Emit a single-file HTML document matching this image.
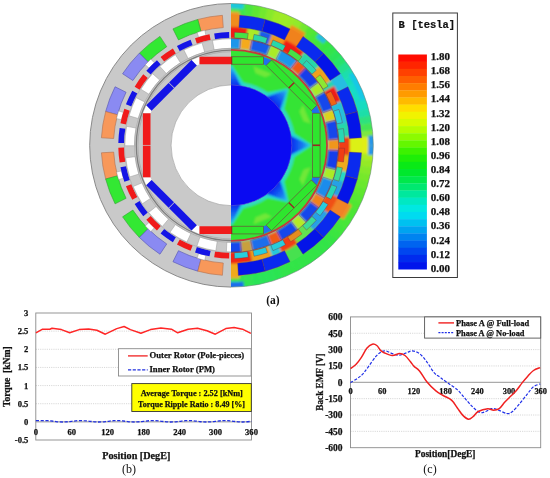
<!DOCTYPE html><html><head><meta charset="utf-8"><style>html,body{margin:0;padding:0;background:#fff;}body{width:550px;height:478px;overflow:hidden;}svg{display:block;}</style></head><body><svg width="550" height="478" viewBox="0 0 550 478">
<defs>
<clipPath id="cl"><rect x="0" y="0" width="231.0" height="300"/></clipPath>
<clipPath id="cr"><rect x="231.0" y="0" width="200" height="300"/></clipPath>
</defs>
<g clip-path="url(#cl)"><circle cx="231.5" cy="145.3" r="141.8" fill="#c9c9c9" stroke="#8a8a8a" stroke-width="1"/><path d="M197.78,19.44A130.3,130.3 0 0 1 222.41,15.32L223.27,27.59A118,118 0 0 0 200.96,31.32Z" fill="#f8985a" stroke="#b07050" stroke-width="0.6"/><path d="M172.95,28.89A130.3,130.3 0 0 1 197.78,19.44L200.96,31.32A118,118 0 0 0 178.48,39.88Z" fill="#33e833" stroke="#30a030" stroke-width="0.6"/><path d="M197.2,32.4A118,118 0 0 1 204.76,30.37L205.89,35.24A113,113 0 0 0 198.65,37.18Z" fill="#ffffff" stroke="#8a8a8a" stroke-width="0.4"/><path d="M139.36,53.16A130.3,130.3 0 0 1 159.96,36.39L166.72,46.67A118,118 0 0 0 148.06,61.86Z" fill="#33e833" stroke="#30a030" stroke-width="0.6"/><path d="M122.59,73.76A130.3,130.3 0 0 1 139.36,53.16L148.06,61.86A118,118 0 0 0 132.87,80.52Z" fill="#8a8af2" stroke="#5050b0" stroke-width="0.6"/><path d="M145.34,64.67A118,118 0 0 1 150.87,59.14L154.29,62.79A113,113 0 0 0 148.99,68.09Z" fill="#ffffff" stroke="#8a8a8a" stroke-width="0.4"/><path d="M105.64,111.58A130.3,130.3 0 0 1 115.09,86.75L126.08,92.28A118,118 0 0 0 117.52,114.76Z" fill="#8a8af2" stroke="#5050b0" stroke-width="0.6"/><path d="M101.42,137.8A130.3,130.3 0 0 1 105.64,111.58L117.52,114.76A118,118 0 0 0 113.7,138.51Z" fill="#f8985a" stroke="#b07050" stroke-width="0.6"/><path d="M116.57,118.56A118,118 0 0 1 118.6,111L123.38,112.45A113,113 0 0 0 121.44,119.69Z" fill="#ffffff" stroke="#8a8a8a" stroke-width="0.4"/><path d="M105.64,179.02A130.3,130.3 0 0 1 101.42,152.8L113.7,152.09A118,118 0 0 0 117.52,175.84Z" fill="#f8985a" stroke="#b07050" stroke-width="0.6"/><path d="M115.09,203.85A130.3,130.3 0 0 1 105.64,179.02L117.52,175.84A118,118 0 0 0 126.08,198.32Z" fill="#33e833" stroke="#30a030" stroke-width="0.6"/><path d="M118.6,179.6A118,118 0 0 1 116.57,172.04L121.44,170.91A113,113 0 0 0 123.38,178.15Z" fill="#ffffff" stroke="#8a8a8a" stroke-width="0.4"/><path d="M139.36,237.44A130.3,130.3 0 0 1 122.59,216.84L132.87,210.08A118,118 0 0 0 148.06,228.74Z" fill="#33e833" stroke="#30a030" stroke-width="0.6"/><path d="M159.96,254.21A130.3,130.3 0 0 1 139.36,237.44L148.06,228.74A118,118 0 0 0 166.72,243.93Z" fill="#8a8af2" stroke="#5050b0" stroke-width="0.6"/><path d="M150.87,231.46A118,118 0 0 1 145.34,225.93L148.99,222.51A113,113 0 0 0 154.29,227.81Z" fill="#ffffff" stroke="#8a8a8a" stroke-width="0.4"/><path d="M197.78,271.16A130.3,130.3 0 0 1 172.95,261.71L178.48,250.72A118,118 0 0 0 200.96,259.28Z" fill="#8a8af2" stroke="#5050b0" stroke-width="0.6"/><path d="M222.41,275.28A130.3,130.3 0 0 1 197.78,271.16L200.96,259.28A118,118 0 0 0 223.27,263.01Z" fill="#f8985a" stroke="#b07050" stroke-width="0.6"/><path d="M204.76,260.23A118,118 0 0 1 197.2,258.2L198.65,253.42A113,113 0 0 0 205.89,255.36Z" fill="#ffffff" stroke="#8a8a8a" stroke-width="0.4"/><path d="M214.18,33.43A113.2,113.2 0 0 1 229.13,32.12L229.25,37.92A107.4,107.4 0 0 0 215.07,39.16Z" fill="#1414e6"/><path d="M195.02,38.14A113.2,113.2 0 0 1 209.51,34.26L210.64,39.95A107.4,107.4 0 0 0 196.89,43.63Z" fill="#f01a1a"/><path d="M176.97,46.1A113.2,113.2 0 0 1 190.56,39.76L192.66,45.17A107.4,107.4 0 0 0 179.76,51.18Z" fill="#1414e6"/><path d="M160.57,57.08A113.2,113.2 0 0 1 172.86,48.47L175.86,53.43A107.4,107.4 0 0 0 164.2,61.6Z" fill="#f01a1a"/><path d="M146.33,70.74A113.2,113.2 0 0 1 156.94,60.13L160.76,64.49A107.4,107.4 0 0 0 150.69,74.56Z" fill="#1414e6"/><path d="M134.67,86.66A113.2,113.2 0 0 1 143.28,74.37L147.8,78A107.4,107.4 0 0 0 139.63,89.66Z" fill="#f01a1a"/><path d="M125.96,104.36A113.2,113.2 0 0 1 132.3,90.77L137.38,93.56A107.4,107.4 0 0 0 131.37,106.46Z" fill="#1414e6"/><path d="M120.46,123.31A113.2,113.2 0 0 1 124.34,108.82L129.83,110.69A107.4,107.4 0 0 0 126.15,124.44Z" fill="#f01a1a"/><path d="M118.32,142.93A113.2,113.2 0 0 1 119.63,127.98L125.36,128.87A107.4,107.4 0 0 0 124.12,143.05Z" fill="#1414e6"/><path d="M119.63,162.62A113.2,113.2 0 0 1 118.32,147.67L124.12,147.55A107.4,107.4 0 0 0 125.36,161.73Z" fill="#f01a1a"/><path d="M124.34,181.78A113.2,113.2 0 0 1 120.46,167.29L126.15,166.16A107.4,107.4 0 0 0 129.83,179.91Z" fill="#1414e6"/><path d="M132.3,199.83A113.2,113.2 0 0 1 125.96,186.24L131.37,184.14A107.4,107.4 0 0 0 137.38,197.04Z" fill="#f01a1a"/><path d="M143.28,216.23A113.2,113.2 0 0 1 134.67,203.94L139.63,200.94A107.4,107.4 0 0 0 147.8,212.6Z" fill="#1414e6"/><path d="M156.94,230.47A113.2,113.2 0 0 1 146.33,219.86L150.69,216.04A107.4,107.4 0 0 0 160.76,226.11Z" fill="#f01a1a"/><path d="M172.86,242.13A113.2,113.2 0 0 1 160.57,233.52L164.2,229A107.4,107.4 0 0 0 175.86,237.17Z" fill="#1414e6"/><path d="M190.56,250.84A113.2,113.2 0 0 1 176.97,244.5L179.76,239.42A107.4,107.4 0 0 0 192.66,245.43Z" fill="#f01a1a"/><path d="M209.51,256.34A113.2,113.2 0 0 1 195.02,252.46L196.89,246.97A107.4,107.4 0 0 0 210.64,250.65Z" fill="#1414e6"/><path d="M229.13,258.48A113.2,113.2 0 0 1 214.18,257.17L215.07,251.44A107.4,107.4 0 0 0 229.25,252.68Z" fill="#f01a1a"/><circle cx="231.5" cy="145.3" r="107.1" fill="none" stroke="#a8a8a8" stroke-width="0.6"/><path d="M212.44,40.42A106.6,106.6 0 0 1 233.36,38.72L233.19,48.31A97,97 0 0 0 214.16,49.86Z" fill="#ffffff" stroke="#9a9a9a" stroke-width="0.5"/><path d="M183.85,49.94A106.6,106.6 0 0 1 202.03,42.86L204.68,52.08A97,97 0 0 0 188.14,58.53Z" fill="#ffffff" stroke="#9a9a9a" stroke-width="0.5"/><path d="M159.83,66.39A106.6,106.6 0 0 1 175.41,54.65L180.46,62.82A97,97 0 0 0 166.28,73.5Z" fill="#ffffff" stroke="#9a9a9a" stroke-width="0.5"/><path d="M140.85,89.21A106.6,106.6 0 0 1 152.59,73.63L159.7,80.08A97,97 0 0 0 149.02,94.26Z" fill="#ffffff" stroke="#9a9a9a" stroke-width="0.5"/><path d="M129.06,115.83A106.6,106.6 0 0 1 136.14,97.65L144.73,101.94A97,97 0 0 0 138.28,118.48Z" fill="#ffffff" stroke="#9a9a9a" stroke-width="0.5"/><path d="M124.9,145.77A106.6,106.6 0 0 1 126.6,126.33L136.05,128.04A97,97 0 0 0 134.5,145.72Z" fill="#ffffff" stroke="#9a9a9a" stroke-width="0.5"/><path d="M129.69,176.91A106.6,106.6 0 0 1 125.64,157.83L135.17,156.7A97,97 0 0 0 138.86,174.06Z" fill="#ffffff" stroke="#9a9a9a" stroke-width="0.5"/><path d="M142.35,203.75A106.6,106.6 0 0 1 133.19,186.52L142.05,182.81A97,97 0 0 0 150.38,198.48Z" fill="#ffffff" stroke="#9a9a9a" stroke-width="0.5"/><path d="M162.34,226.42A106.6,106.6 0 0 1 148.71,212.46L156.17,206.41A97,97 0 0 0 168.57,219.11Z" fill="#ffffff" stroke="#9a9a9a" stroke-width="0.5"/><path d="M186.87,242.11A106.6,106.6 0 0 1 169.98,232.35L175.52,224.51A97,97 0 0 0 190.89,233.39Z" fill="#ffffff" stroke="#9a9a9a" stroke-width="0.5"/><path d="M215.84,250.74A106.6,106.6 0 0 1 196.88,246.12L200,237.04A97,97 0 0 0 217.25,241.25Z" fill="#ffffff" stroke="#9a9a9a" stroke-width="0.5"/><path d="M245.88,250.93A106.6,106.6 0 0 1 226.39,251.78L226.85,242.19A97,97 0 0 0 244.58,241.41Z" fill="#ffffff" stroke="#9a9a9a" stroke-width="0.5"/><circle cx="231.5" cy="145.3" r="97.0" fill="none" stroke="#a0a0a0" stroke-width="0.5"/><circle cx="231.5" cy="145.3" r="95.2" fill="#c9c9c9" stroke="#7e7e7e" stroke-width="1.3"/><circle cx="231.5" cy="145.3" r="93.60000000000001" fill="none" stroke="#a0a0a0" stroke-width="0.6"/><path d="M199.5,64.3L199.5,56.7L195.53,58.46L191.48,60.02L196.85,65.4Z" fill="#ffffff"/><path d="M151.6,110.65L146.22,105.28L144.66,109.33L142.9,113.3L150.5,113.3Z" fill="#ffffff"/><path d="M150.5,177.3L142.9,177.3L144.66,181.27L146.22,185.32L151.6,179.95Z" fill="#ffffff"/><path d="M196.85,225.2L191.48,230.58L195.53,232.14L199.5,233.9L199.5,226.3Z" fill="#ffffff"/><path d="M263.5,226.3L263.5,233.9L267.47,232.14L271.52,230.58L266.15,225.2Z" fill="#ffffff"/><path d="M311.4,179.95L316.78,185.32L318.34,181.27L320.1,177.3L312.5,177.3Z" fill="#ffffff"/><path d="M312.5,113.3L320.1,113.3L318.34,109.33L316.78,105.28L311.4,110.65Z" fill="#ffffff"/><path d="M266.15,65.4L271.52,60.02L267.47,58.46L263.5,56.7L263.5,64.3Z" fill="#ffffff"/><path d="M263.5,56.7L231.85,56.7L231.85,64.3L263.5,64.3Z" fill="#f01a1a"/><path d="M231.15,56.7L199.5,56.7L199.5,64.3L231.15,64.3Z" fill="#f01a1a"/><path d="M191.48,60.02L169.1,82.4L174.47,87.78L196.85,65.4Z" fill="#1414e6"/><path d="M168.6,82.9L146.22,105.28L151.6,110.65L173.98,88.27Z" fill="#1414e6"/><path d="M142.9,113.3L142.9,144.95L150.5,144.95L150.5,113.3Z" fill="#f01a1a"/><path d="M142.9,145.65L142.9,177.3L150.5,177.3L150.5,145.65Z" fill="#f01a1a"/><path d="M146.22,185.32L168.6,207.7L173.98,202.33L151.6,179.95Z" fill="#1414e6"/><path d="M169.1,208.2L191.48,230.58L196.85,225.2L174.47,202.82Z" fill="#1414e6"/><path d="M199.5,233.9L231.15,233.9L231.15,226.3L199.5,226.3Z" fill="#f01a1a"/><path d="M231.85,233.9L263.5,233.9L263.5,226.3L231.85,226.3Z" fill="#f01a1a"/><path d="M271.52,230.58L293.9,208.2L288.53,202.82L266.15,225.2Z" fill="#1414e6"/><path d="M294.4,207.7L316.78,185.32L311.4,179.95L289.02,202.33Z" fill="#1414e6"/><path d="M320.1,177.3L320.1,145.65L312.5,145.65L312.5,177.3Z" fill="#f01a1a"/><path d="M320.1,144.95L320.1,113.3L312.5,113.3L312.5,144.95Z" fill="#f01a1a"/><path d="M316.78,105.28L294.4,82.9L289.02,88.27L311.4,110.65Z" fill="#1414e6"/><path d="M293.9,82.4L271.52,60.02L266.15,65.4L288.53,87.78Z" fill="#1414e6"/><circle cx="231.5" cy="145.3" r="60.4" fill="#ffffff" stroke="#9a9a9a" stroke-width="0.6"/></g>
<g clip-path="url(#cr)"><defs><linearGradient id="vg180" gradientUnits="userSpaceOnUse" x1="231.5" y1="205.7" x2="231.5" y2="224.3"><stop offset="0" stop-color="#0830f0"/><stop offset="0.55" stop-color="#1878f0"/><stop offset="1" stop-color="#30c8e8"/></linearGradient><linearGradient id="vg135" gradientUnits="userSpaceOnUse" x1="274.21" y1="188.01" x2="287.36" y2="201.16"><stop offset="0" stop-color="#0830f0"/><stop offset="0.55" stop-color="#1878f0"/><stop offset="1" stop-color="#30c8e8"/></linearGradient><linearGradient id="vg90" gradientUnits="userSpaceOnUse" x1="291.9" y1="145.3" x2="310.5" y2="145.3"><stop offset="0" stop-color="#0830f0"/><stop offset="0.55" stop-color="#1878f0"/><stop offset="1" stop-color="#30c8e8"/></linearGradient><linearGradient id="vg45" gradientUnits="userSpaceOnUse" x1="274.21" y1="102.59" x2="287.36" y2="89.44"><stop offset="0" stop-color="#0830f0"/><stop offset="0.55" stop-color="#1878f0"/><stop offset="1" stop-color="#30c8e8"/></linearGradient><linearGradient id="vg0" gradientUnits="userSpaceOnUse" x1="231.5" y1="84.9" x2="231.5" y2="66.3"><stop offset="0" stop-color="#0830f0"/><stop offset="0.55" stop-color="#1878f0"/><stop offset="1" stop-color="#30c8e8"/></linearGradient><filter id="bl1" x="-10%" y="-10%" width="120%" height="120%"><feGaussianBlur stdDeviation="1.2"/></filter><filter id="bl2" x="-10%" y="-10%" width="120%" height="120%"><feGaussianBlur stdDeviation="1.2"/></filter><clipPath id="cyoke"><path d="M231.5,3.5A141.8,141.8 0 1 1 231.5,287.1A141.8,141.8 0 1 1 231.5,3.5ZM231.5,16A129.3,129.3 0 1 0 231.5,274.6A129.3,129.3 0 1 0 231.5,16Z" clip-rule="evenodd"/></clipPath><clipPath id="cstat"><path d="M231.5,14.5A130.8,130.8 0 1 1 231.5,276.1A130.8,130.8 0 1 1 231.5,14.5ZM231.5,38.7A106.6,106.6 0 1 0 231.5,251.9A106.6,106.6 0 1 0 231.5,38.7Z" clip-rule="evenodd"/></clipPath><clipPath id="cpp"><path d="M231.5,38.4A106.89999999999999,106.89999999999999 0 1 1 231.5,252.2A106.89999999999999,106.89999999999999 0 1 1 231.5,38.4ZM231.5,50.1A95.2,95.2 0 1 0 231.5,240.5A95.2,95.2 0 1 0 231.5,50.1Z" clip-rule="evenodd"/></clipPath><clipPath id="cin"><path d="M231.5,50.1A95.2,95.2 0 1 1 231.5,240.5A95.2,95.2 0 1 1 231.5,50.1ZM231.5,85.4A59.9,59.9 0 1 0 231.5,205.2A59.9,59.9 0 1 0 231.5,85.4Z" clip-rule="evenodd"/></clipPath></defs><g clip-path="url(#cyoke)"><g filter="url(#bl1)"><path d="M216.11,1.32A144.8,144.8 0 0 1 224.17,0.69L225.06,18.16A127.3,127.3 0 0 0 217.97,18.72Z" fill="#7fe833"/><path d="M223.67,0.71A144.8,144.8 0 0 1 231.75,0.5L231.72,18A127.3,127.3 0 0 0 224.62,18.19Z" fill="#6de739"/><path d="M231.25,0.5A144.8,144.8 0 0 1 239.33,0.71L238.38,18.19A127.3,127.3 0 0 0 231.28,18Z" fill="#58e542"/><path d="M238.83,0.69A144.8,144.8 0 0 1 246.89,1.32L245.03,18.72A127.3,127.3 0 0 0 237.94,18.16Z" fill="#40e44e"/><path d="M246.38,1.27A144.8,144.8 0 0 1 254.4,2.32L251.63,19.6A127.3,127.3 0 0 0 244.59,18.67Z" fill="#4be541"/><path d="M253.9,2.24A144.8,144.8 0 0 1 261.85,3.72L258.18,20.83A127.3,127.3 0 0 0 251.19,19.53Z" fill="#5ee632"/><path d="M261.36,3.61A144.8,144.8 0 0 1 269.22,5.5L264.66,22.4A127.3,127.3 0 0 0 257.75,20.74Z" fill="#72e82e"/><path d="M268.73,5.37A144.8,144.8 0 0 1 276.49,7.67L271.05,24.3A127.3,127.3 0 0 0 264.23,22.28Z" fill="#88e92c"/><path d="M276.01,7.51A144.8,144.8 0 0 1 283.63,10.21L277.33,26.54A127.3,127.3 0 0 0 270.63,24.16Z" fill="#9ceb28"/><path d="M283.16,10.03A144.8,144.8 0 0 1 290.63,13.12L283.48,29.1A127.3,127.3 0 0 0 276.91,26.38Z" fill="#9deb28"/><path d="M290.16,12.92A144.8,144.8 0 0 1 297.46,16.4L289.49,31.98A127.3,127.3 0 0 0 283.07,28.92Z" fill="#99ea28"/><path d="M297.01,16.17A144.8,144.8 0 0 1 304.12,20.03L295.34,35.17A127.3,127.3 0 0 0 289.09,31.77Z" fill="#91ea29"/><path d="M303.68,19.77A144.8,144.8 0 0 1 310.58,24L301.02,38.66A127.3,127.3 0 0 0 294.96,34.94Z" fill="#73e82d"/><path d="M310.15,23.72A144.8,144.8 0 0 1 316.82,28.3L306.5,42.44A127.3,127.3 0 0 0 300.65,38.42Z" fill="#55e631"/><path d="M316.41,28.01A144.8,144.8 0 0 1 322.82,32.93L311.79,46.51A127.3,127.3 0 0 0 306.15,42.18Z" fill="#48e637"/><path d="M322.43,32.61A144.8,144.8 0 0 1 328.58,37.86L316.85,50.85A127.3,127.3 0 0 0 311.44,46.23Z" fill="#40e53d"/><path d="M328.2,37.52A144.8,144.8 0 0 1 334.07,43.09L321.67,55.44A127.3,127.3 0 0 0 316.52,50.55Z" fill="#36e443"/><path d="M333.71,42.73A144.8,144.8 0 0 1 339.28,48.6L326.25,60.28A127.3,127.3 0 0 0 321.36,55.13Z" fill="#30e44c"/><path d="M338.94,48.22A144.8,144.8 0 0 1 344.19,54.37L330.57,65.36A127.3,127.3 0 0 0 325.95,59.95Z" fill="#2ce359"/><path d="M343.87,53.98A144.8,144.8 0 0 1 348.79,60.39L334.62,70.65A127.3,127.3 0 0 0 330.29,65.01Z" fill="#27e26a"/><path d="M348.5,59.98A144.8,144.8 0 0 1 353.08,66.65L338.38,76.15A127.3,127.3 0 0 0 334.36,70.3Z" fill="#22e08d"/><path d="M352.8,66.22A144.8,144.8 0 0 1 357.03,73.12L341.86,81.84A127.3,127.3 0 0 0 338.14,75.78Z" fill="#1ddeac"/><path d="M356.77,72.68A144.8,144.8 0 0 1 360.63,79.79L345.03,87.71A127.3,127.3 0 0 0 341.63,81.46Z" fill="#19ddb9"/><path d="M360.4,79.34A144.8,144.8 0 0 1 363.88,86.64L347.88,93.73A127.3,127.3 0 0 0 344.82,87.31Z" fill="#15dcc6"/><path d="M363.68,86.17A144.8,144.8 0 0 1 366.77,93.64L350.42,99.89A127.3,127.3 0 0 0 347.7,93.32Z" fill="#14dcc6"/><path d="M366.59,93.17A144.8,144.8 0 0 1 369.29,100.79L352.64,106.17A127.3,127.3 0 0 0 350.26,99.47Z" fill="#14dcc2"/><path d="M369.13,100.31A144.8,144.8 0 0 1 371.43,108.07L354.52,112.57A127.3,127.3 0 0 0 352.5,105.75Z" fill="#14dcc0"/><path d="M371.3,107.58A144.8,144.8 0 0 1 373.19,115.44L356.06,119.05A127.3,127.3 0 0 0 354.4,112.14Z" fill="#1ddea9"/><path d="M373.08,114.95A144.8,144.8 0 0 1 374.56,122.9L357.27,125.61A127.3,127.3 0 0 0 355.97,118.62Z" fill="#2ee17e"/><path d="M374.48,122.4A144.8,144.8 0 0 1 375.53,130.42L358.13,132.21A127.3,127.3 0 0 0 357.2,125.17Z" fill="#45e456"/><path d="M375.48,129.91A144.8,144.8 0 0 1 376.11,137.97L358.64,138.86A127.3,127.3 0 0 0 358.08,131.77Z" fill="#7ee840"/><path d="M376.09,137.47A144.8,144.8 0 0 1 376.3,145.55L358.8,145.52A127.3,127.3 0 0 0 358.61,138.42Z" fill="#b6ea29"/><path d="M376.3,145.05A144.8,144.8 0 0 1 376.09,153.13L358.61,152.18A127.3,127.3 0 0 0 358.8,145.08Z" fill="#c5ec20"/><path d="M376.11,152.63A144.8,144.8 0 0 1 375.48,160.69L358.08,158.83A127.3,127.3 0 0 0 358.64,151.74Z" fill="#abeb24"/><path d="M375.53,160.18A144.8,144.8 0 0 1 374.48,168.2L357.2,165.43A127.3,127.3 0 0 0 358.13,158.39Z" fill="#94ea28"/><path d="M374.56,167.7A144.8,144.8 0 0 1 373.08,175.65L355.97,171.98A127.3,127.3 0 0 0 357.27,164.99Z" fill="#84e92a"/><path d="M373.19,175.16A144.8,144.8 0 0 1 371.3,183.02L354.4,178.46A127.3,127.3 0 0 0 356.06,171.55Z" fill="#76e82c"/><path d="M371.43,182.53A144.8,144.8 0 0 1 369.13,190.29L352.5,184.85A127.3,127.3 0 0 0 354.52,178.03Z" fill="#6ae82e"/><path d="M369.29,189.81A144.8,144.8 0 0 1 366.59,197.43L350.26,191.13A127.3,127.3 0 0 0 352.64,184.43Z" fill="#60e72f"/><path d="M366.77,196.96A144.8,144.8 0 0 1 363.68,204.43L347.7,197.28A127.3,127.3 0 0 0 350.42,190.71Z" fill="#58e631"/><path d="M363.88,203.96A144.8,144.8 0 0 1 360.4,211.26L344.82,203.29A127.3,127.3 0 0 0 347.88,196.87Z" fill="#50e632"/><path d="M360.63,210.81A144.8,144.8 0 0 1 356.77,217.92L341.63,209.14A127.3,127.3 0 0 0 345.03,202.89Z" fill="#4ce634"/><path d="M357.03,217.48A144.8,144.8 0 0 1 352.8,224.38L338.14,214.82A127.3,127.3 0 0 0 341.86,208.76Z" fill="#4ae635"/><path d="M353.08,223.95A144.8,144.8 0 0 1 348.5,230.62L334.36,220.3A127.3,127.3 0 0 0 338.38,214.45Z" fill="#46e637"/><path d="M348.79,230.21A144.8,144.8 0 0 1 343.87,236.62L330.29,225.59A127.3,127.3 0 0 0 334.62,219.95Z" fill="#41e63b"/><path d="M344.19,236.23A144.8,144.8 0 0 1 338.94,242.38L325.95,230.65A127.3,127.3 0 0 0 330.57,225.24Z" fill="#3be53f"/><path d="M339.28,242A144.8,144.8 0 0 1 333.71,247.87L321.36,235.47A127.3,127.3 0 0 0 326.25,230.32Z" fill="#35e444"/><path d="M334.07,247.51A144.8,144.8 0 0 1 328.2,253.08L316.52,240.05A127.3,127.3 0 0 0 321.67,235.16Z" fill="#32e446"/><path d="M328.58,252.74A144.8,144.8 0 0 1 322.43,257.99L311.44,244.37A127.3,127.3 0 0 0 316.85,239.75Z" fill="#32e446"/><path d="M322.82,257.67A144.8,144.8 0 0 1 316.41,262.59L306.15,248.42A127.3,127.3 0 0 0 311.79,244.09Z" fill="#32e446"/><path d="M316.82,262.3A144.8,144.8 0 0 1 310.15,266.88L300.65,252.18A127.3,127.3 0 0 0 306.5,248.16Z" fill="#32e446"/><path d="M310.58,266.6A144.8,144.8 0 0 1 303.68,270.83L294.96,255.66A127.3,127.3 0 0 0 301.02,251.94Z" fill="#32e446"/><path d="M304.12,270.57A144.8,144.8 0 0 1 297.01,274.43L289.09,258.83A127.3,127.3 0 0 0 295.34,255.43Z" fill="#32e446"/><path d="M297.46,274.2A144.8,144.8 0 0 1 290.16,277.68L283.07,261.68A127.3,127.3 0 0 0 289.49,258.62Z" fill="#32e446"/><path d="M290.63,277.48A144.8,144.8 0 0 1 283.16,280.57L276.91,264.22A127.3,127.3 0 0 0 283.48,261.5Z" fill="#30e44b"/><path d="M283.63,280.39A144.8,144.8 0 0 1 276.01,283.09L270.63,266.44A127.3,127.3 0 0 0 277.33,264.06Z" fill="#2ce451"/><path d="M276.49,282.93A144.8,144.8 0 0 1 268.73,285.23L264.23,268.32A127.3,127.3 0 0 0 271.05,266.3Z" fill="#2ae457"/><path d="M269.22,285.1A144.8,144.8 0 0 1 261.36,286.99L257.75,269.86A127.3,127.3 0 0 0 264.66,268.2Z" fill="#2ae458"/><path d="M261.85,286.88A144.8,144.8 0 0 1 253.9,288.36L251.19,271.07A127.3,127.3 0 0 0 258.18,269.77Z" fill="#2ce456"/><path d="M254.4,288.28A144.8,144.8 0 0 1 246.38,289.33L244.59,271.93A127.3,127.3 0 0 0 251.63,271Z" fill="#30e452"/><path d="M246.89,289.28A144.8,144.8 0 0 1 238.83,289.91L237.94,272.44A127.3,127.3 0 0 0 245.03,271.88Z" fill="#32e450"/><path d="M239.33,289.89A144.8,144.8 0 0 1 231.25,290.1L231.28,272.6A127.3,127.3 0 0 0 238.38,272.41Z" fill="#36e44c"/><path d="M231.75,290.1A144.8,144.8 0 0 1 223.67,289.89L224.62,272.41A127.3,127.3 0 0 0 231.72,272.6Z" fill="#38e44a"/><path d="M224.17,289.91A144.8,144.8 0 0 1 216.11,289.28L217.97,271.88A127.3,127.3 0 0 0 225.06,272.44Z" fill="#3ce446"/><path d="M223.36,12.25A133.3,133.3 0 0 1 239.64,12.25L239.27,18.24A127.3,127.3 0 0 0 223.73,18.24Z" fill="#f09628"/><path d="M291.42,25.11A134.3,134.3 0 0 1 305.63,33.31L301.76,39.15A127.3,127.3 0 0 0 288.3,31.37Z" fill="#f08c1e"/><path d="M375.03,136.52A143.8,143.8 0 0 1 375.03,154.08L358.56,153.07A127.3,127.3 0 0 0 358.56,137.53Z" fill="#e1ee19"/><path d="M351.69,205.22A134.3,134.3 0 0 1 343.49,219.43L337.65,215.56A127.3,127.3 0 0 0 345.43,202.1Z" fill="#f08c28"/><path d="M239.64,278.35A133.3,133.3 0 0 1 223.36,278.35L223.73,272.36A127.3,127.3 0 0 0 239.27,272.36Z" fill="#f0aa28"/><path d="M228.97,0.52A144.8,144.8 0 0 1 244.12,1.05L243.42,9.02A136.8,136.8 0 0 0 229.11,8.52Z" fill="#1ec8dc"/><path d="M320.65,31.2A144.8,144.8 0 0 1 328.39,37.69L323.04,43.64A136.8,136.8 0 0 0 315.72,37.5Z" fill="#28bedc"/><path d="M375.95,135.2A144.8,144.8 0 0 1 376.3,145.3L368.3,145.3A136.8,136.8 0 0 0 367.97,135.76Z" fill="#2896eb"/><path d="M376.3,145.3A144.8,144.8 0 0 1 375.95,155.4L367.97,154.84A136.8,136.8 0 0 0 368.3,145.3Z" fill="#2896eb"/><path d="M355.62,70.72A144.8,144.8 0 0 1 368.41,98.16L360.85,100.76A136.8,136.8 0 0 0 348.76,74.84Z" fill="#14c8e6"/><path d="M244.12,289.55A144.8,144.8 0 0 1 228.97,290.08L229.11,282.08A136.8,136.8 0 0 0 243.42,281.58Z" fill="#1e6eeb"/></g></g><g clip-path="url(#cstat)"><g filter="url(#bl1)"><path d="M212.95,13.3A133.3,133.3 0 1 1 212.95,277.3L217.08,247.89A103.6,103.6 0 1 0 217.08,42.71Z" fill="#60dc60"/><path d="M219.88,12.51A133.3,133.3 0 0 1 243.12,12.51L241.44,31.73A114,114 0 0 0 221.56,31.73Z" fill="#f08c1e"/><path d="M289.31,25.19A133.3,133.3 0 0 1 306.62,35.18L295.74,51.12A114,114 0 0 0 280.94,42.58Z" fill="#f0821e"/><path d="M341.62,70.18A133.3,133.3 0 0 1 351.61,87.49L334.22,95.86A114,114 0 0 0 325.68,81.06Z" fill="#28bee1"/><path d="M364.42,135.31A133.3,133.3 0 0 1 364.42,155.29L345.18,153.85A114,114 0 0 0 345.18,136.75Z" fill="#dcf014"/><path d="M351.61,203.11A133.3,133.3 0 0 1 341.62,220.42L325.68,209.54A114,114 0 0 0 334.22,194.74Z" fill="#f08228"/><path d="M306.62,255.42A133.3,133.3 0 0 1 289.31,265.41L280.94,248.02A114,114 0 0 0 295.74,239.48Z" fill="#46e150"/><path d="M243.12,278.09A133.3,133.3 0 0 1 219.88,278.09L221.56,258.87A114,114 0 0 0 241.44,258.87Z" fill="#f0aa1e"/><path d="M221.17,27.25A118.5,118.5 0 0 1 247.99,27.95L246.31,39.94A106.4,106.4 0 0 0 222.23,39.3Z" fill="#f01e14"/><path d="M247.99,27.95A118.5,118.5 0 0 1 260.17,30.32L257.24,42.06A106.4,106.4 0 0 0 246.31,39.94Z" fill="#aaeb28"/><path d="M260.17,30.32A118.5,118.5 0 0 1 272.03,33.95L267.89,45.32A106.4,106.4 0 0 0 257.24,42.06Z" fill="#1e5aeb"/><path d="M272.03,33.95A118.5,118.5 0 0 1 285.3,39.72L279.8,50.5A106.4,106.4 0 0 0 267.89,45.32Z" fill="#f0961e"/><path d="M285.3,39.72A118.5,118.5 0 0 1 304.46,51.92L297.01,61.46A106.4,106.4 0 0 0 279.8,50.5Z" fill="#f01e14"/><path d="M304.46,51.92A118.5,118.5 0 0 1 319.56,66.01L310.57,74.1A106.4,106.4 0 0 0 297.01,61.46Z" fill="#28d7aa"/><path d="M319.56,66.01A118.5,118.5 0 0 1 330.88,80.76L320.73,87.35A106.4,106.4 0 0 0 310.57,74.1Z" fill="#f0a01e"/><path d="M330.88,80.76A118.5,118.5 0 0 1 334.12,86.05L323.65,92.1A106.4,106.4 0 0 0 320.73,87.35Z" fill="#28d7aa"/><path d="M334.12,86.05A118.5,118.5 0 0 1 341.37,100.91L330.15,105.44A106.4,106.4 0 0 0 323.65,92.1Z" fill="#f01e14"/><path d="M341.37,100.91A118.5,118.5 0 0 1 347.82,122.69L335.95,125A106.4,106.4 0 0 0 330.15,105.44Z" fill="#28bedc"/><path d="M347.82,122.69A118.5,118.5 0 0 1 349.71,137.03L337.64,137.88A106.4,106.4 0 0 0 335.95,125Z" fill="#28d7aa"/><path d="M349.71,137.03A118.5,118.5 0 0 1 349.55,155.63L337.5,154.57A106.4,106.4 0 0 0 337.64,137.88Z" fill="#f03c14"/><path d="M349.55,155.63A118.5,118.5 0 0 1 346.96,171.96L335.17,169.23A106.4,106.4 0 0 0 337.5,154.57Z" fill="#f0aa1e"/><path d="M346.96,171.96A118.5,118.5 0 0 1 344.2,181.92L332.69,178.18A106.4,106.4 0 0 0 335.17,169.23Z" fill="#28d7c8"/><path d="M344.2,181.92A118.5,118.5 0 0 1 338.01,197.25L327.13,191.94A106.4,106.4 0 0 0 332.69,178.18Z" fill="#28a0e6"/><path d="M338.01,197.25A118.5,118.5 0 0 1 328.57,213.27L318.66,206.33A106.4,106.4 0 0 0 327.13,191.94Z" fill="#f05014"/><path d="M328.57,213.27A118.5,118.5 0 0 1 313.82,230.54L305.41,221.84A106.4,106.4 0 0 0 318.66,206.33Z" fill="#28a0e6"/><path d="M313.82,230.54A118.5,118.5 0 0 1 297.76,243.54L291,233.51A106.4,106.4 0 0 0 305.41,221.84Z" fill="#64e150"/><path d="M297.76,243.54A118.5,118.5 0 0 1 281.58,252.7L276.47,241.73A106.4,106.4 0 0 0 291,233.51Z" fill="#f03c14"/><path d="M281.58,252.7A118.5,118.5 0 0 1 272.03,256.65L267.89,245.28A106.4,106.4 0 0 0 276.47,241.73Z" fill="#28c8dc"/><path d="M272.03,256.65A118.5,118.5 0 0 1 252.08,262L249.98,250.08A106.4,106.4 0 0 0 267.89,245.28Z" fill="#f0a01e"/><path d="M252.08,262A118.5,118.5 0 0 1 221.17,263.35L222.23,251.3A106.4,106.4 0 0 0 249.98,250.08Z" fill="#f02814"/></g></g><path d="M239.68,15.26A130.3,130.3 0 0 1 265.22,19.44L262.04,31.32A118,118 0 0 0 238.91,27.53Z" fill="#0a2aee"/><path d="M265.22,19.44A130.3,130.3 0 0 1 290.05,28.89L284.52,39.88A118,118 0 0 0 262.04,31.32Z" fill="#0414e8"/><path d="M239.68,15.26A130.3,130.3 0 0 1 290.05,28.89L284.52,39.88A118,118 0 0 0 238.91,27.53Z" fill="none" stroke="#6a3a5a" stroke-width="0.4"/><path d="M262.04,31.32L265.22,19.44" stroke="#7a3040" stroke-width="0.5"/><path d="M303.04,36.39A130.3,130.3 0 0 1 323.64,53.16L314.94,61.86A118,118 0 0 0 296.28,46.67Z" fill="#0a2aee"/><path d="M323.64,53.16A130.3,130.3 0 0 1 340.41,73.76L330.13,80.52A118,118 0 0 0 314.94,61.86Z" fill="#0414e8"/><path d="M303.04,36.39A130.3,130.3 0 0 1 340.41,73.76L330.13,80.52A118,118 0 0 0 296.28,46.67Z" fill="none" stroke="#6a3a5a" stroke-width="0.4"/><path d="M314.94,61.86L323.64,53.16" stroke="#7a3040" stroke-width="0.5"/><path d="M347.91,86.75A130.3,130.3 0 0 1 357.36,111.58L345.48,114.76A118,118 0 0 0 336.92,92.28Z" fill="#0a2aee"/><path d="M357.36,111.58A130.3,130.3 0 0 1 361.58,137.8L349.3,138.51A118,118 0 0 0 345.48,114.76Z" fill="#0414e8"/><path d="M347.91,86.75A130.3,130.3 0 0 1 361.58,137.8L349.3,138.51A118,118 0 0 0 336.92,92.28Z" fill="none" stroke="#6a3a5a" stroke-width="0.4"/><path d="M345.48,114.76L357.36,111.58" stroke="#7a3040" stroke-width="0.5"/><path d="M361.58,152.8A130.3,130.3 0 0 1 357.36,179.02L345.48,175.84A118,118 0 0 0 349.3,152.09Z" fill="#0a2aee"/><path d="M357.36,179.02A130.3,130.3 0 0 1 347.91,203.85L336.92,198.32A118,118 0 0 0 345.48,175.84Z" fill="#0414e8"/><path d="M361.58,152.8A130.3,130.3 0 0 1 347.91,203.85L336.92,198.32A118,118 0 0 0 349.3,152.09Z" fill="none" stroke="#6a3a5a" stroke-width="0.4"/><path d="M345.48,175.84L357.36,179.02" stroke="#7a3040" stroke-width="0.5"/><path d="M340.41,216.84A130.3,130.3 0 0 1 323.64,237.44L314.94,228.74A118,118 0 0 0 330.13,210.08Z" fill="#0a2aee"/><path d="M323.64,237.44A130.3,130.3 0 0 1 303.04,254.21L296.28,243.93A118,118 0 0 0 314.94,228.74Z" fill="#0414e8"/><path d="M340.41,216.84A130.3,130.3 0 0 1 303.04,254.21L296.28,243.93A118,118 0 0 0 330.13,210.08Z" fill="none" stroke="#6a3a5a" stroke-width="0.4"/><path d="M314.94,228.74L323.64,237.44" stroke="#7a3040" stroke-width="0.5"/><path d="M290.05,261.71A130.3,130.3 0 0 1 265.22,271.16L262.04,259.28A118,118 0 0 0 284.52,250.72Z" fill="#0a2aee"/><path d="M265.22,271.16A130.3,130.3 0 0 1 238.32,275.42L237.68,263.14A118,118 0 0 0 262.04,259.28Z" fill="#0414e8"/><path d="M290.05,261.71A130.3,130.3 0 0 1 238.32,275.42L237.68,263.14A118,118 0 0 0 284.52,250.72Z" fill="none" stroke="#6a3a5a" stroke-width="0.4"/><path d="M262.04,259.28L265.22,271.16" stroke="#7a3040" stroke-width="0.5"/><path d="M234.46,32.14A113.2,113.2 0 0 1 248.23,33.34L247.37,39.08A107.4,107.4 0 0 0 234.31,37.94Z" fill="#46e146" stroke="#7a3040" stroke-width="0.4"/><path d="M254.07,34.37A113.2,113.2 0 0 1 267.42,37.95L265.58,43.45A107.4,107.4 0 0 0 252.91,40.06Z" fill="#28d7aa" stroke="#7a3040" stroke-width="0.4"/><path d="M272.99,39.98A113.2,113.2 0 0 1 285.51,45.82L282.75,50.92A107.4,107.4 0 0 0 270.86,45.37Z" fill="#28d7aa" stroke="#7a3040" stroke-width="0.4"/><path d="M290.65,48.78A113.2,113.2 0 0 1 301.97,56.71L298.36,61.25A107.4,107.4 0 0 0 287.62,53.73Z" fill="#46e146" stroke="#7a3040" stroke-width="0.4"/><path d="M306.51,60.52A113.2,113.2 0 0 1 316.28,70.29L311.94,74.13A107.4,107.4 0 0 0 302.67,64.86Z" fill="#28d7b4" stroke="#7a3040" stroke-width="0.4"/><path d="M320.09,74.83A113.2,113.2 0 0 1 328.02,86.15L323.07,89.18A107.4,107.4 0 0 0 315.55,78.44Z" fill="#8ce832" stroke="#7a3040" stroke-width="0.4"/><path d="M330.98,91.29A113.2,113.2 0 0 1 336.82,103.81L331.43,105.94A107.4,107.4 0 0 0 325.88,94.05Z" fill="#f06414" stroke="#7a3040" stroke-width="0.4"/><path d="M338.85,109.38A113.2,113.2 0 0 1 342.43,122.73L336.74,123.89A107.4,107.4 0 0 0 333.35,111.22Z" fill="#28cddc" stroke="#7a3040" stroke-width="0.4"/><path d="M343.46,128.57A113.2,113.2 0 0 1 344.66,142.34L338.86,142.49A107.4,107.4 0 0 0 337.72,129.43Z" fill="#28d7b4" stroke="#7a3040" stroke-width="0.4"/><path d="M344.66,148.26A113.2,113.2 0 0 1 343.46,162.03L337.72,161.17A107.4,107.4 0 0 0 338.86,148.11Z" fill="#f03c14" stroke="#7a3040" stroke-width="0.4"/><path d="M342.43,167.87A113.2,113.2 0 0 1 338.85,181.22L333.35,179.38A107.4,107.4 0 0 0 336.74,166.71Z" fill="#3cdc96" stroke="#7a3040" stroke-width="0.4"/><path d="M336.82,186.79A113.2,113.2 0 0 1 330.98,199.31L325.88,196.55A107.4,107.4 0 0 0 331.43,184.66Z" fill="#28d7b4" stroke="#7a3040" stroke-width="0.4"/><path d="M328.02,204.45A113.2,113.2 0 0 1 320.09,215.77L315.55,212.16A107.4,107.4 0 0 0 323.07,201.42Z" fill="#28cddc" stroke="#7a3040" stroke-width="0.4"/><path d="M316.28,220.31A113.2,113.2 0 0 1 306.51,230.08L302.67,225.74A107.4,107.4 0 0 0 311.94,216.47Z" fill="#3cdc96" stroke="#7a3040" stroke-width="0.4"/><path d="M301.97,233.89A113.2,113.2 0 0 1 290.65,241.82L287.62,236.87A107.4,107.4 0 0 0 298.36,229.35Z" fill="#e68c1e" stroke="#7a3040" stroke-width="0.4"/><path d="M285.51,244.78A113.2,113.2 0 0 1 272.99,250.62L270.86,245.23A107.4,107.4 0 0 0 282.75,239.68Z" fill="#28cddc" stroke="#7a3040" stroke-width="0.4"/><path d="M267.42,252.65A113.2,113.2 0 0 1 254.07,256.23L252.91,250.54A107.4,107.4 0 0 0 265.58,247.15Z" fill="#28cddc" stroke="#7a3040" stroke-width="0.4"/><path d="M248.23,257.26A113.2,113.2 0 0 1 234.46,258.46L234.31,252.66A107.4,107.4 0 0 0 247.37,251.52Z" fill="#28cddc" stroke="#7a3040" stroke-width="0.4"/><g clip-path="url(#cpp)"><g filter="url(#bl1)"><path d="M216.39,37.76A108.6,108.6 0 1 1 216.39,252.84L218.39,238.58A94.2,94.2 0 1 0 218.39,52.02Z" fill="#70d8a0"/><path d="M221.28,37.18A108.6,108.6 0 0 1 240.97,37.11L239.93,48.97A96.7,96.7 0 0 0 222.4,49.03Z" fill="#1e96eb"/><path d="M240.97,37.11A108.6,108.6 0 0 1 252.15,38.68L249.89,50.36A96.7,96.7 0 0 0 239.93,48.97Z" fill="#f5aa1e"/><path d="M252.15,38.68A108.6,108.6 0 0 1 271.06,44.16L266.73,55.24A96.7,96.7 0 0 0 249.89,50.36Z" fill="#145aeb"/><path d="M271.06,44.16A108.6,108.6 0 0 1 281.36,48.82L275.89,59.39A96.7,96.7 0 0 0 266.73,55.24Z" fill="#aaeb28"/><path d="M281.36,48.82A108.6,108.6 0 0 1 297.95,59.4L290.67,68.82A96.7,96.7 0 0 0 275.89,59.39Z" fill="#1e96eb"/><path d="M297.95,59.4A108.6,108.6 0 0 1 306.52,66.77L298.3,75.38A96.7,96.7 0 0 0 290.67,68.82Z" fill="#f05a14"/><path d="M306.52,66.77A108.6,108.6 0 0 1 319.46,81.61L309.82,88.59A96.7,96.7 0 0 0 298.3,75.38Z" fill="#143ceb"/><path d="M319.46,81.61A108.6,108.6 0 0 1 325.6,91.09L315.29,97.03A96.7,96.7 0 0 0 309.82,88.59Z" fill="#aaeb28"/><path d="M325.6,91.09A108.6,108.6 0 0 1 333.84,108.97L322.63,112.95A96.7,96.7 0 0 0 315.29,97.03Z" fill="#1446eb"/><path d="M333.84,108.97A108.6,108.6 0 0 1 337.06,119.8L325.5,122.59A96.7,96.7 0 0 0 322.63,112.95Z" fill="#dcd21e"/><path d="M337.06,119.8A108.6,108.6 0 0 1 339.93,139.27L328.05,139.93A96.7,96.7 0 0 0 325.5,122.59Z" fill="#1446eb"/><path d="M339.93,139.27A108.6,108.6 0 0 1 339.97,150.57L328.09,149.99A96.7,96.7 0 0 0 328.05,139.93Z" fill="#f0961e"/><path d="M339.97,150.57A108.6,108.6 0 0 1 337.24,170.06L325.65,167.35A96.7,96.7 0 0 0 328.09,149.99Z" fill="#143ceb"/><path d="M337.24,170.06A108.6,108.6 0 0 1 334.09,180.92L322.85,177.01A96.7,96.7 0 0 0 325.65,167.35Z" fill="#aaeb28"/><path d="M334.09,180.92A108.6,108.6 0 0 1 325.98,198.85L315.63,192.98A96.7,96.7 0 0 0 322.85,177.01Z" fill="#1e8ceb"/><path d="M325.98,198.85A108.6,108.6 0 0 1 319.9,208.38L310.22,201.47A96.7,96.7 0 0 0 315.63,192.98Z" fill="#f0821e"/><path d="M319.9,208.38A108.6,108.6 0 0 1 307.06,223.3L298.78,214.75A96.7,96.7 0 0 0 310.22,201.47Z" fill="#1446eb"/><path d="M307.06,223.3A108.6,108.6 0 0 1 298.55,230.73L291.2,221.37A96.7,96.7 0 0 0 298.78,214.75Z" fill="#b4eb28"/><path d="M298.55,230.73A108.6,108.6 0 0 1 282.03,241.43L276.49,230.9A96.7,96.7 0 0 0 291.2,221.37Z" fill="#1446eb"/><path d="M282.03,241.43A108.6,108.6 0 0 1 271.77,246.16L267.35,235.11A96.7,96.7 0 0 0 276.49,230.9Z" fill="#f05a14"/><path d="M271.77,246.16A108.6,108.6 0 0 1 252.9,251.77L250.55,240.1A96.7,96.7 0 0 0 267.35,235.11Z" fill="#1e6eeb"/><path d="M252.9,251.77A108.6,108.6 0 0 1 241.72,253.42L240.6,241.57A96.7,96.7 0 0 0 250.55,240.1Z" fill="#c8a03c"/><path d="M241.72,253.42A108.6,108.6 0 0 1 222.04,253.49L223.07,241.63A96.7,96.7 0 0 0 240.6,241.57Z" fill="#1446eb"/><path d="M222.04,253.49A108.6,108.6 0 0 1 210.85,251.92L213.11,240.24A96.7,96.7 0 0 0 223.07,241.63Z" fill="#c8dc28"/></g></g><path d="M221.47,39.17A106.6,106.6 0 0 1 240.79,39.11L239.95,48.67A97,97 0 0 0 222.37,48.73Z" fill="none" stroke="#7a3040" stroke-width="0.35"/><path d="M251.77,40.65A106.6,106.6 0 0 1 270.33,46.02L266.84,54.97A97,97 0 0 0 249.95,50.07Z" fill="none" stroke="#7a3040" stroke-width="0.35"/><path d="M280.44,50.6A106.6,106.6 0 0 1 296.73,60.99L290.85,68.58A97,97 0 0 0 276.03,59.13Z" fill="none" stroke="#7a3040" stroke-width="0.35"/><path d="M305.14,68.22A106.6,106.6 0 0 1 317.84,82.78L310.06,88.41A97,97 0 0 0 298.5,75.16Z" fill="none" stroke="#7a3040" stroke-width="0.35"/><path d="M323.87,92.09A106.6,106.6 0 0 1 331.96,109.64L322.91,112.85A97,97 0 0 0 315.55,96.88Z" fill="none" stroke="#7a3040" stroke-width="0.35"/><path d="M335.12,120.27A106.6,106.6 0 0 1 337.94,139.38L328.35,139.92A97,97 0 0 0 325.79,122.52Z" fill="none" stroke="#7a3040" stroke-width="0.35"/><path d="M337.97,150.47A106.6,106.6 0 0 1 335.29,169.61L325.94,167.42A97,97 0 0 0 328.39,150.01Z" fill="none" stroke="#7a3040" stroke-width="0.35"/><path d="M332.2,180.26A106.6,106.6 0 0 1 324.24,197.87L315.89,193.13A97,97 0 0 0 323.13,177.11Z" fill="none" stroke="#7a3040" stroke-width="0.35"/><path d="M318.28,207.22A106.6,106.6 0 0 1 305.67,221.86L298.99,214.97A97,97 0 0 0 310.46,201.64Z" fill="none" stroke="#7a3040" stroke-width="0.35"/><path d="M297.32,229.16A106.6,106.6 0 0 1 281.1,239.66L276.63,231.16A97,97 0 0 0 291.39,221.6Z" fill="none" stroke="#7a3040" stroke-width="0.35"/><path d="M271.03,244.3A106.6,106.6 0 0 1 252.5,249.81L250.61,240.4A97,97 0 0 0 267.47,235.39Z" fill="none" stroke="#7a3040" stroke-width="0.35"/><path d="M241.53,251.43A106.6,106.6 0 0 1 222.21,251.49L223.05,241.93A97,97 0 0 0 240.63,241.87Z" fill="none" stroke="#7a3040" stroke-width="0.35"/><circle cx="231.5" cy="145.3" r="107.1" fill="none" stroke="#7a3040" stroke-width="0.5"/><g clip-path="url(#cin)"><g filter="url(#bl2)"><circle cx="231.5" cy="145.3" r="98.2" fill="#34e434"/><circle cx="231.5" cy="145.3" r="63.9" fill="#30dcc0"/><path d="M255.62,73.23L253.41,66.28L271.88,73.93L265.41,77.28Z" fill="#80e838" opacity="0.8"/><path d="M299.52,111.39L302.87,104.92L310.52,123.39L303.57,121.18Z" fill="#80e838" opacity="0.8"/><path d="M303.57,169.42L310.52,167.21L302.87,185.68L299.52,179.21Z" fill="#80e838" opacity="0.8"/><path d="M265.41,213.32L271.88,216.67L253.41,224.32L255.62,217.37Z" fill="#80e838" opacity="0.8"/><path d="M214.72,90.41L231.5,64.8L248.28,90.41Z" fill="#28d8d0"/><path d="M220.55,88.95L231.5,66.3L242.45,88.95Z" fill="url(#vg0)"/><path d="M258.45,94.62L288.42,88.38L282.18,118.35Z" fill="#28d8d0"/><path d="M263.6,97.71L287.36,89.44L279.09,113.2Z" fill="url(#vg45)"/><path d="M286.39,128.52L312,145.3L286.39,162.08Z" fill="#28d8d0"/><path d="M287.85,134.35L310.5,145.3L287.85,156.25Z" fill="url(#vg90)"/><path d="M282.18,172.25L288.42,202.22L258.45,195.98Z" fill="#28d8d0"/><path d="M279.09,177.4L287.36,201.16L263.6,192.89Z" fill="url(#vg135)"/><path d="M248.28,200.19L231.5,225.8L214.72,200.19Z" fill="#28d8d0"/><path d="M242.45,201.65L231.5,224.3L220.55,201.65Z" fill="url(#vg180)"/></g></g><circle cx="231.5" cy="145.3" r="95.5" fill="none" stroke="#c43a3a" stroke-width="1.8"/><path d="M263.5,64.3L263.5,56.7L267.47,58.46L271.52,60.02L266.15,65.4Z" fill="#2070f0"/><path d="M311.4,110.65L316.78,105.28L318.34,109.33L320.1,113.3L312.5,113.3Z" fill="#2070f0"/><path d="M312.5,177.3L320.1,177.3L318.34,181.27L316.78,185.32L311.4,179.95Z" fill="#2070f0"/><path d="M266.15,225.2L271.52,230.58L267.47,232.14L263.5,233.9L263.5,226.3Z" fill="#2070f0"/><path d="M199.5,56.7L231.15,56.7L231.15,64.3L199.5,64.3Z" fill="#2ee62e" stroke="#7a3040" stroke-width="0.6"/><path d="M231.85,56.7L263.5,56.7L263.5,64.3L231.85,64.3Z" fill="#2ee62e" stroke="#7a3040" stroke-width="0.6"/><path d="M271.52,60.02L293.9,82.4L288.53,87.78L266.15,65.4Z" fill="#2ee62e" stroke="#7a3040" stroke-width="0.6"/><path d="M294.4,82.9L316.78,105.28L311.4,110.65L289.02,88.27Z" fill="#2ee62e" stroke="#7a3040" stroke-width="0.6"/><path d="M320.1,113.3L320.1,144.95L312.5,144.95L312.5,113.3Z" fill="#2ee62e" stroke="#7a3040" stroke-width="0.6"/><path d="M320.1,145.65L320.1,177.3L312.5,177.3L312.5,145.65Z" fill="#2ee62e" stroke="#7a3040" stroke-width="0.6"/><path d="M316.78,185.32L294.4,207.7L289.02,202.33L311.4,179.95Z" fill="#2ee62e" stroke="#7a3040" stroke-width="0.6"/><path d="M293.9,208.2L271.52,230.58L266.15,225.2L288.53,202.82Z" fill="#2ee62e" stroke="#7a3040" stroke-width="0.6"/><path d="M263.5,233.9L231.85,233.9L231.85,226.3L263.5,226.3Z" fill="#2ee62e" stroke="#7a3040" stroke-width="0.6"/><path d="M231.15,233.9L199.5,233.9L199.5,226.3L231.15,226.3Z" fill="#2ee62e" stroke="#7a3040" stroke-width="0.6"/><path d="M191.48,230.58L169.1,208.2L174.47,202.82L196.85,225.2Z" fill="#2ee62e" stroke="#7a3040" stroke-width="0.6"/><path d="M168.6,207.7L146.22,185.32L151.6,179.95L173.98,202.33Z" fill="#2ee62e" stroke="#7a3040" stroke-width="0.6"/><path d="M142.9,177.3L142.9,145.65L150.5,145.65L150.5,177.3Z" fill="#2ee62e" stroke="#7a3040" stroke-width="0.6"/><path d="M142.9,144.95L142.9,113.3L150.5,113.3L150.5,144.95Z" fill="#2ee62e" stroke="#7a3040" stroke-width="0.6"/><path d="M146.22,105.28L168.6,82.9L173.98,88.27L151.6,110.65Z" fill="#2ee62e" stroke="#7a3040" stroke-width="0.6"/><path d="M169.1,82.4L191.48,60.02L196.85,65.4L174.47,87.78Z" fill="#2ee62e" stroke="#7a3040" stroke-width="0.6"/><path d="M231.5,64.3L231.5,56.7" stroke="#a02020" stroke-width="1.2"/><path d="M288.78,88.02L294.15,82.65" stroke="#a02020" stroke-width="1.2"/><path d="M312.5,145.3L320.1,145.3" stroke="#a02020" stroke-width="1.2"/><path d="M288.78,202.58L294.15,207.95" stroke="#a02020" stroke-width="1.2"/><path d="M231.5,226.3L231.5,233.9" stroke="#a02020" stroke-width="1.2"/><circle cx="231.5" cy="145.3" r="60.4" fill="#0a0af2" stroke="#6060c0" stroke-width="0.5"/><circle cx="231.5" cy="145.3" r="141.8" fill="none" stroke="#6a8a7a" stroke-width="0.6"/></g>
<rect x="392.8" y="13" width="64.6" height="264.5" fill="#fff" stroke="#3a3a3a" stroke-width="1"/>
<text x="398.6" y="28" font-family="Liberation Mono, monospace" font-weight="bold" font-size="10.5" fill="#111" stroke="#111" stroke-width="0.2" textLength="56.5" lengthAdjust="spacingAndGlyphs">B [tesla]</text>
<rect x="398.3" y="54.5" width="28.6" height="7.46" fill="#ff0c00"/>
<rect x="398.3" y="61.66" width="28.6" height="7.46" fill="#ff2500"/>
<rect x="398.3" y="68.81" width="28.6" height="7.46" fill="#ff4100"/>
<rect x="398.3" y="75.97" width="28.6" height="7.46" fill="#ff5f00"/>
<rect x="398.3" y="83.13" width="28.6" height="7.46" fill="#ff7d00"/>
<rect x="398.3" y="90.28" width="28.6" height="7.46" fill="#ff9b00"/>
<rect x="398.3" y="97.44" width="28.6" height="7.46" fill="#ffbb00"/>
<rect x="398.3" y="104.6" width="28.6" height="7.46" fill="#ffde00"/>
<rect x="398.3" y="111.75" width="28.6" height="7.46" fill="#f1f300"/>
<rect x="398.3" y="118.91" width="28.6" height="7.46" fill="#d5fb00"/>
<rect x="398.3" y="126.07" width="28.6" height="7.46" fill="#b4fd00"/>
<rect x="398.3" y="133.22" width="28.6" height="7.46" fill="#8cfb00"/>
<rect x="398.3" y="140.38" width="28.6" height="7.46" fill="#64f700"/>
<rect x="398.3" y="147.54" width="28.6" height="7.46" fill="#3cf200"/>
<rect x="398.3" y="154.69" width="28.6" height="7.46" fill="#1eee07"/>
<rect x="398.3" y="161.85" width="28.6" height="7.46" fill="#09ea16"/>
<rect x="398.3" y="169.01" width="28.6" height="7.46" fill="#00e82d"/>
<rect x="398.3" y="176.16" width="28.6" height="7.46" fill="#00e84b"/>
<rect x="398.3" y="183.32" width="28.6" height="7.46" fill="#00e870"/>
<rect x="398.3" y="190.48" width="28.6" height="7.46" fill="#00e89d"/>
<rect x="398.3" y="197.63" width="28.6" height="7.46" fill="#00e8c3"/>
<rect x="398.3" y="204.79" width="28.6" height="7.46" fill="#00e8e1"/>
<rect x="398.3" y="211.95" width="28.6" height="7.46" fill="#00dbf0"/>
<rect x="398.3" y="219.1" width="28.6" height="7.46" fill="#00c1f0"/>
<rect x="398.3" y="226.26" width="28.6" height="7.46" fill="#00a3f0"/>
<rect x="398.3" y="233.42" width="28.6" height="7.46" fill="#0083f0"/>
<rect x="398.3" y="240.57" width="28.6" height="7.46" fill="#0064f0"/>
<rect x="398.3" y="247.73" width="28.6" height="7.46" fill="#0046f0"/>
<rect x="398.3" y="254.89" width="28.6" height="7.46" fill="#002bee"/>
<rect x="398.3" y="262.04" width="28.6" height="7.46" fill="#0015ec"/>
<text x="430.7" y="60.1" font-family="Liberation Serif, serif" font-weight="bold" font-size="11" fill="#111" stroke="#111" stroke-width="0.25">1.80</text>
<text x="430.7" y="74.21" font-family="Liberation Serif, serif" font-weight="bold" font-size="11" fill="#111" stroke="#111" stroke-width="0.25">1.68</text>
<text x="430.7" y="88.33" font-family="Liberation Serif, serif" font-weight="bold" font-size="11" fill="#111" stroke="#111" stroke-width="0.25">1.56</text>
<text x="430.7" y="102.44" font-family="Liberation Serif, serif" font-weight="bold" font-size="11" fill="#111" stroke="#111" stroke-width="0.25">1.44</text>
<text x="430.7" y="116.55" font-family="Liberation Serif, serif" font-weight="bold" font-size="11" fill="#111" stroke="#111" stroke-width="0.25">1.32</text>
<text x="430.7" y="130.67" font-family="Liberation Serif, serif" font-weight="bold" font-size="11" fill="#111" stroke="#111" stroke-width="0.25">1.20</text>
<text x="430.7" y="144.78" font-family="Liberation Serif, serif" font-weight="bold" font-size="11" fill="#111" stroke="#111" stroke-width="0.25">1.08</text>
<text x="430.7" y="158.89" font-family="Liberation Serif, serif" font-weight="bold" font-size="11" fill="#111" stroke="#111" stroke-width="0.25">0.96</text>
<text x="430.7" y="173.01" font-family="Liberation Serif, serif" font-weight="bold" font-size="11" fill="#111" stroke="#111" stroke-width="0.25">0.84</text>
<text x="430.7" y="187.12" font-family="Liberation Serif, serif" font-weight="bold" font-size="11" fill="#111" stroke="#111" stroke-width="0.25">0.72</text>
<text x="430.7" y="201.23" font-family="Liberation Serif, serif" font-weight="bold" font-size="11" fill="#111" stroke="#111" stroke-width="0.25">0.60</text>
<text x="430.7" y="215.35" font-family="Liberation Serif, serif" font-weight="bold" font-size="11" fill="#111" stroke="#111" stroke-width="0.25">0.48</text>
<text x="430.7" y="229.46" font-family="Liberation Serif, serif" font-weight="bold" font-size="11" fill="#111" stroke="#111" stroke-width="0.25">0.36</text>
<text x="430.7" y="243.57" font-family="Liberation Serif, serif" font-weight="bold" font-size="11" fill="#111" stroke="#111" stroke-width="0.25">0.24</text>
<text x="430.7" y="257.69" font-family="Liberation Serif, serif" font-weight="bold" font-size="11" fill="#111" stroke="#111" stroke-width="0.25">0.12</text>
<text x="430.7" y="271.8" font-family="Liberation Serif, serif" font-weight="bold" font-size="11" fill="#111" stroke="#111" stroke-width="0.25">0.00</text>
<text x="273" y="303.6" text-anchor="middle" font-family="Liberation Serif, serif" font-weight="bold" font-size="11.5" fill="#111">(a)</text>
<line x1="35.8" y1="331.14" x2="251.5" y2="331.14" stroke="#c4c4c4" stroke-width="0.7" stroke-dasharray="1.1,1.1"/>
<line x1="35.8" y1="349.29" x2="251.5" y2="349.29" stroke="#c4c4c4" stroke-width="0.7" stroke-dasharray="1.1,1.1"/>
<line x1="35.8" y1="367.43" x2="251.5" y2="367.43" stroke="#c4c4c4" stroke-width="0.7" stroke-dasharray="1.1,1.1"/>
<line x1="35.8" y1="385.57" x2="251.5" y2="385.57" stroke="#c4c4c4" stroke-width="0.7" stroke-dasharray="1.1,1.1"/>
<line x1="35.8" y1="403.71" x2="251.5" y2="403.71" stroke="#c4c4c4" stroke-width="0.7" stroke-dasharray="1.1,1.1"/>
<line x1="35.8" y1="421.86" x2="251.5" y2="421.86" stroke="#8a8a8a" stroke-width="0.9"/>
<rect x="35.8" y="313.0" width="215.7" height="127" fill="none" stroke="#8a8a8a" stroke-width="0.9"/>
<text x="28.4" y="316" font-size="8.6" text-anchor="end" font-family="Liberation Serif, serif" font-weight="bold" fill="#111" stroke="#111" stroke-width="0.25" >3</text>
<text x="28.4" y="334.14" font-size="8.6" text-anchor="end" font-family="Liberation Serif, serif" font-weight="bold" fill="#111" stroke="#111" stroke-width="0.25" >2.5</text>
<text x="28.4" y="352.29" font-size="8.6" text-anchor="end" font-family="Liberation Serif, serif" font-weight="bold" fill="#111" stroke="#111" stroke-width="0.25" >2</text>
<text x="28.4" y="370.43" font-size="8.6" text-anchor="end" font-family="Liberation Serif, serif" font-weight="bold" fill="#111" stroke="#111" stroke-width="0.25" >1.5</text>
<text x="28.4" y="388.57" font-size="8.6" text-anchor="end" font-family="Liberation Serif, serif" font-weight="bold" fill="#111" stroke="#111" stroke-width="0.25" >1</text>
<text x="28.4" y="406.71" font-size="8.6" text-anchor="end" font-family="Liberation Serif, serif" font-weight="bold" fill="#111" stroke="#111" stroke-width="0.25" >0.5</text>
<text x="28.4" y="424.86" font-size="8.6" text-anchor="end" font-family="Liberation Serif, serif" font-weight="bold" fill="#111" stroke="#111" stroke-width="0.25" >0</text>
<text x="28.4" y="443" font-size="8.6" text-anchor="end" font-family="Liberation Serif, serif" font-weight="bold" fill="#111" stroke="#111" stroke-width="0.25" >-0.5</text>
<text x="35.8" y="435.3" font-size="8.6" text-anchor="middle" font-family="Liberation Serif, serif" font-weight="bold" fill="#111" stroke="#111" stroke-width="0.25" >0</text>
<text x="71.75" y="435.3" font-size="8.6" text-anchor="middle" font-family="Liberation Serif, serif" font-weight="bold" fill="#111" stroke="#111" stroke-width="0.25" >60</text>
<text x="107.7" y="435.3" font-size="8.6" text-anchor="middle" font-family="Liberation Serif, serif" font-weight="bold" fill="#111" stroke="#111" stroke-width="0.25" >120</text>
<text x="143.65" y="435.3" font-size="8.6" text-anchor="middle" font-family="Liberation Serif, serif" font-weight="bold" fill="#111" stroke="#111" stroke-width="0.25" >180</text>
<text x="179.6" y="435.3" font-size="8.6" text-anchor="middle" font-family="Liberation Serif, serif" font-weight="bold" fill="#111" stroke="#111" stroke-width="0.25" >240</text>
<text x="215.55" y="435.3" font-size="8.6" text-anchor="middle" font-family="Liberation Serif, serif" font-weight="bold" fill="#111" stroke="#111" stroke-width="0.25" >300</text>
<text x="251.5" y="435.3" font-size="8.6" text-anchor="middle" font-family="Liberation Serif, serif" font-weight="bold" fill="#111" stroke="#111" stroke-width="0.25" >360</text>
<polyline points="35.9,332.8 42.6,329.2 49.9,329.2 52,328.2 61.4,329.6 69.7,332.8 79.2,329.6 88.6,329 96.9,330.3 105.3,334.2 116.8,328.6 124.1,326.5 130.4,329.6 140.9,333.2 150.5,329.6 160.9,328 171.4,329.2 177.7,332.8 188.1,329.2 197.5,328.2 207,330.7 215.3,334.2 225.8,328.6 234.1,327.6 242.5,329.2 250.9,333.4" fill="none" stroke="#ff2626" stroke-width="1.5" stroke-linejoin="round"/>
<path d="M35.8,420.6C36.8,420.62 39.79,420.68 41.79,420.69C43.79,420.71 45.79,420.59 47.78,420.69C49.78,420.79 51.78,421.1 53.77,421.3C55.77,421.5 57.77,421.81 59.77,421.91C61.76,422.01 63.76,422.01 65.76,421.91C67.76,421.81 69.75,421.5 71.75,421.3C73.75,421.1 75.74,420.79 77.74,420.69C79.74,420.59 81.74,420.59 83.73,420.69C85.73,420.79 87.73,421.1 89.72,421.3C91.72,421.5 93.72,421.81 95.72,421.91C97.71,422.01 99.71,422.01 101.71,421.91C103.71,421.81 105.7,421.5 107.7,421.3C109.7,421.1 111.69,420.79 113.69,420.69C115.69,420.59 117.69,420.59 119.68,420.69C121.68,420.79 123.68,421.1 125.67,421.3C127.67,421.5 129.67,421.81 131.67,421.91C133.66,422.01 135.66,422.01 137.66,421.91C139.66,421.81 141.65,421.5 143.65,421.3C145.65,421.1 147.64,420.79 149.64,420.69C151.64,420.59 153.64,420.59 155.63,420.69C157.63,420.79 159.63,421.1 161.62,421.3C163.62,421.5 165.62,421.81 167.62,421.91C169.61,422.01 171.61,422.01 173.61,421.91C175.61,421.81 177.6,421.5 179.6,421.3C181.6,421.1 183.59,420.79 185.59,420.69C187.59,420.59 189.59,420.59 191.58,420.69C193.58,420.79 195.58,421.1 197.57,421.3C199.57,421.5 201.57,421.81 203.57,421.91C205.56,422.01 207.56,422.01 209.56,421.91C211.56,421.81 213.55,421.5 215.55,421.3C217.55,421.1 219.54,420.79 221.54,420.69C223.54,420.59 225.54,420.59 227.53,420.69C229.53,420.79 231.53,421.1 233.52,421.3C235.52,421.5 237.52,421.81 239.52,421.91C241.51,422.01 243.51,422.01 245.51,421.91C247.51,421.81 250.5,421.4 251.5,421.3" fill="none" stroke="#2030e0" stroke-width="1.3" stroke-dasharray="3.2,1.6"/>
<rect x="118.5" y="348.7" width="132.6" height="27.3" fill="#fff" stroke="#8a8a8a" stroke-width="0.9"/>
<line x1="128" y1="355.9" x2="147.7" y2="355.9" stroke="#f02020" stroke-width="1.3"/>
<line x1="128" y1="369.8" x2="147.7" y2="369.8" stroke="#2030e0" stroke-width="1.3" stroke-dasharray="3.2,1.5"/>
<text x="149.5" y="358.2" font-size="9" text-anchor="start" font-family="Liberation Serif, serif" font-weight="bold" fill="#111" stroke="#111" stroke-width="0.25" textLength="94.7" lengthAdjust="spacingAndGlyphs">Outer Rotor (Pole-pieces)</text>
<text x="149.5" y="372.3" font-size="9" text-anchor="start" font-family="Liberation Serif, serif" font-weight="bold" fill="#111" stroke="#111" stroke-width="0.25" textLength="65.5" lengthAdjust="spacingAndGlyphs">Inner Rotor (PM)</text>
<rect x="131.8" y="383.6" width="119.5" height="27.9" fill="#ffff00" stroke="#333" stroke-width="0.9"/>
<text x="191.8" y="396.2" font-size="8.6" text-anchor="middle" font-family="Liberation Serif, serif" font-weight="bold" fill="#111" stroke="#111" stroke-width="0.25" textLength="102" lengthAdjust="spacingAndGlyphs">Average Torque : 2.52 [kNm]</text>
<text x="191.5" y="406.5" font-size="8.6" text-anchor="middle" font-family="Liberation Serif, serif" font-weight="bold" fill="#111" stroke="#111" stroke-width="0.25" textLength="107" lengthAdjust="spacingAndGlyphs">Torque Ripple Ratio : 8.49 [%]</text>
<text x="102.3" y="458.6" font-size="10.2" text-anchor="start" font-family="Liberation Serif, serif" font-weight="bold" fill="#111" stroke="#111" stroke-width="0.25" textLength="68" lengthAdjust="spacingAndGlyphs">Position [DegE]</text>
<text x="128.9" y="473" font-size="12" text-anchor="middle" font-family="Liberation Serif, serif" fill="#111">(b)</text>
<text transform="translate(9.9,376.7) rotate(-90)" x="0" y="0" font-size="10" text-anchor="middle" font-family="Liberation Serif, serif" font-weight="bold" fill="#111" stroke="#111" stroke-width="0.25" textLength="60.7" lengthAdjust="spacingAndGlyphs">Torque&#160;&#160;[kNm]</text>
<line x1="350.5" y1="333.25" x2="540.7" y2="333.25" stroke="#c4c4c4" stroke-width="0.7" stroke-dasharray="1.1,1.1"/>
<line x1="350.5" y1="349.6" x2="540.7" y2="349.6" stroke="#c4c4c4" stroke-width="0.7" stroke-dasharray="1.1,1.1"/>
<line x1="350.5" y1="365.95" x2="540.7" y2="365.95" stroke="#c4c4c4" stroke-width="0.7" stroke-dasharray="1.1,1.1"/>
<line x1="350.5" y1="398.65" x2="540.7" y2="398.65" stroke="#c4c4c4" stroke-width="0.7" stroke-dasharray="1.1,1.1"/>
<line x1="350.5" y1="415" x2="540.7" y2="415" stroke="#c4c4c4" stroke-width="0.7" stroke-dasharray="1.1,1.1"/>
<line x1="350.5" y1="431.35" x2="540.7" y2="431.35" stroke="#c4c4c4" stroke-width="0.7" stroke-dasharray="1.1,1.1"/>
<line x1="350.5" y1="382.3" x2="540.7" y2="382.3" stroke="#8a8a8a" stroke-width="0.9"/>
<rect x="350.5" y="316.9" width="190.2" height="130.8" fill="none" stroke="#8a8a8a" stroke-width="0.9"/>
<text x="342.6" y="320.2" font-size="9.5" text-anchor="end" font-family="Liberation Serif, serif" font-weight="bold" fill="#111" stroke="#111" stroke-width="0.25" >600</text>
<text x="342.6" y="336.55" font-size="9.5" text-anchor="end" font-family="Liberation Serif, serif" font-weight="bold" fill="#111" stroke="#111" stroke-width="0.25" >450</text>
<text x="342.6" y="352.9" font-size="9.5" text-anchor="end" font-family="Liberation Serif, serif" font-weight="bold" fill="#111" stroke="#111" stroke-width="0.25" >300</text>
<text x="342.6" y="369.25" font-size="9.5" text-anchor="end" font-family="Liberation Serif, serif" font-weight="bold" fill="#111" stroke="#111" stroke-width="0.25" >150</text>
<text x="342.6" y="385.6" font-size="9.5" text-anchor="end" font-family="Liberation Serif, serif" font-weight="bold" fill="#111" stroke="#111" stroke-width="0.25" >0</text>
<text x="342.6" y="401.95" font-size="9.5" text-anchor="end" font-family="Liberation Serif, serif" font-weight="bold" fill="#111" stroke="#111" stroke-width="0.25" >-150</text>
<text x="342.6" y="418.3" font-size="9.5" text-anchor="end" font-family="Liberation Serif, serif" font-weight="bold" fill="#111" stroke="#111" stroke-width="0.25" >-300</text>
<text x="342.6" y="434.65" font-size="9.5" text-anchor="end" font-family="Liberation Serif, serif" font-weight="bold" fill="#111" stroke="#111" stroke-width="0.25" >-450</text>
<text x="342.6" y="451" font-size="9.5" text-anchor="end" font-family="Liberation Serif, serif" font-weight="bold" fill="#111" stroke="#111" stroke-width="0.25" >-600</text>
<text x="350.5" y="394.1" font-size="8.4" text-anchor="middle" font-family="Liberation Serif, serif" font-weight="bold" fill="#111" stroke="#111" stroke-width="0.25" >0</text>
<text x="382.2" y="394.1" font-size="8.4" text-anchor="middle" font-family="Liberation Serif, serif" font-weight="bold" fill="#111" stroke="#111" stroke-width="0.25" >60</text>
<text x="413.9" y="394.1" font-size="8.4" text-anchor="middle" font-family="Liberation Serif, serif" font-weight="bold" fill="#111" stroke="#111" stroke-width="0.25" >120</text>
<text x="445.6" y="394.1" font-size="8.4" text-anchor="middle" font-family="Liberation Serif, serif" font-weight="bold" fill="#111" stroke="#111" stroke-width="0.25" >180</text>
<text x="477.3" y="394.1" font-size="8.4" text-anchor="middle" font-family="Liberation Serif, serif" font-weight="bold" fill="#111" stroke="#111" stroke-width="0.25" >240</text>
<text x="509" y="394.1" font-size="8.4" text-anchor="middle" font-family="Liberation Serif, serif" font-weight="bold" fill="#111" stroke="#111" stroke-width="0.25" >300</text>
<text x="540.7" y="394.1" font-size="8.4" text-anchor="middle" font-family="Liberation Serif, serif" font-weight="bold" fill="#111" stroke="#111" stroke-width="0.25" >360</text>
<path d="M350.5,382.7C351.7,381.95 355.58,379.72 357.7,378.2C359.82,376.68 361.38,375.57 363.2,373.6C365.02,371.63 366.48,369.27 368.6,366.4C370.72,363.53 373.77,358.83 375.9,356.4C378.03,353.97 379.73,352.72 381.4,351.8C383.07,350.88 384.08,350.6 385.9,350.9C387.72,351.2 390.03,352.9 392.3,353.6C394.57,354.3 397.08,355.25 399.5,355.1C401.92,354.95 404.67,353.4 406.8,352.7C408.93,352 410.18,350.75 412.3,350.9C414.42,351.05 417.08,351.78 419.5,353.6C421.92,355.42 424.37,358.62 426.8,361.8C429.23,364.98 431.9,370.13 434.1,372.7C436.3,375.27 437.75,375.5 440,377.2C442.25,378.9 444.73,380.83 447.6,382.9C450.47,384.97 454.33,387.05 457.2,389.6C460.07,392.15 462.25,395.33 464.8,398.2C467.35,401.07 469.95,404.42 472.5,406.8C475.05,409.18 477.88,411.72 480.1,412.5C482.32,413.28 483.9,412.13 485.8,411.5C487.7,410.87 489.58,409.02 491.5,408.7C493.42,408.38 494.75,408.8 497.3,409.6C499.85,410.4 504.27,413.18 506.8,413.5C509.33,413.82 510.27,413.25 512.5,411.5C514.73,409.75 517.65,406.02 520.2,403C522.75,399.98 525.58,396.12 527.8,393.4C530.02,390.68 531.43,388.28 533.5,386.7C535.57,385.12 539.08,384.37 540.2,383.9" fill="none" stroke="#2030e8" stroke-width="1.2" stroke-dasharray="3,1.5"/>
<path d="M350.5,368.5C351.4,367.83 354.08,366.37 355.9,364.5C357.72,362.63 359.58,360.02 361.4,357.3C363.22,354.58 364.98,350.38 366.8,348.2C368.62,346.02 370.63,344.65 372.3,344.2C373.97,343.75 375.43,344.47 376.8,345.5C378.17,346.53 379.28,349.2 380.5,350.4C381.72,351.6 382.13,351.85 384.1,352.7C386.07,353.55 389.73,355.35 392.3,355.5C394.87,355.65 397.38,353.6 399.5,353.6C401.62,353.6 403.17,354.13 405,355.5C406.83,356.87 408.98,359.98 410.5,361.8C412.02,363.62 412.6,364.88 414.1,366.4C415.6,367.92 417.38,368.33 419.5,370.9C421.62,373.47 424.07,378.47 426.8,381.8C429.53,385.13 433.17,388.62 435.9,390.9C438.63,393.18 440.6,393.97 443.2,395.5C445.8,397.03 449.17,398.07 451.5,400.1C453.83,402.13 455.3,405.15 457.2,407.7C459.1,410.25 461,413.48 462.9,415.4C464.8,417.32 466.85,419.05 468.6,419.2C470.35,419.35 471.8,417.58 473.4,416.3C475,415.02 475.82,412.77 478.2,411.5C480.58,410.23 485.15,408.92 487.7,408.7C490.25,408.48 491.58,410.2 493.5,410.2C495.42,410.2 497.3,410.07 499.2,408.7C501.1,407.33 503,404.07 504.9,402C506.8,399.93 508.68,398.22 510.6,396.3C512.52,394.38 514.48,392.73 516.4,390.5C518.32,388.27 520.2,385.28 522.1,382.9C524,380.52 525.9,378.27 527.8,376.2C529.7,374.13 531.43,371.93 533.5,370.5C535.57,369.07 539.08,368.08 540.2,367.6" fill="none" stroke="#f02020" stroke-width="1.5"/>
<rect x="424.6" y="316.9" width="116.1" height="21.2" fill="#fff" stroke="#555" stroke-width="0.9"/>
<line x1="438.4" y1="322.9" x2="454" y2="322.9" stroke="#f02020" stroke-width="1.4"/>
<line x1="438.4" y1="332.6" x2="454" y2="332.6" stroke="#2030e8" stroke-width="1.2" stroke-dasharray="2,1.2"/>
<text x="456" y="325.9" font-size="8.8" text-anchor="start" font-family="Liberation Serif, serif" font-weight="bold" fill="#111" stroke="#111" stroke-width="0.25" textLength="73.2" lengthAdjust="spacingAndGlyphs">Phase A @ Full-load</text>
<text x="456" y="335.6" font-size="8.8" text-anchor="start" font-family="Liberation Serif, serif" font-weight="bold" fill="#111" stroke="#111" stroke-width="0.25" textLength="68.5" lengthAdjust="spacingAndGlyphs">Phase A @ No-load</text>
<text x="415" y="457.4" font-size="9.6" text-anchor="start" font-family="Liberation Serif, serif" font-weight="bold" fill="#111" stroke="#111" stroke-width="0.25" textLength="60.5" lengthAdjust="spacingAndGlyphs">Position[DegE]</text>
<text x="430" y="472.6" font-size="12" text-anchor="middle" font-family="Liberation Serif, serif" fill="#111">(c)</text>
<text transform="translate(322.5,382) rotate(-90)" x="0" y="0" font-size="9.5" text-anchor="middle" font-family="Liberation Serif, serif" font-weight="bold" fill="#111" stroke="#111" stroke-width="0.25" textLength="57.3" lengthAdjust="spacingAndGlyphs">Back EMF [V]</text>
</svg></body></html>
